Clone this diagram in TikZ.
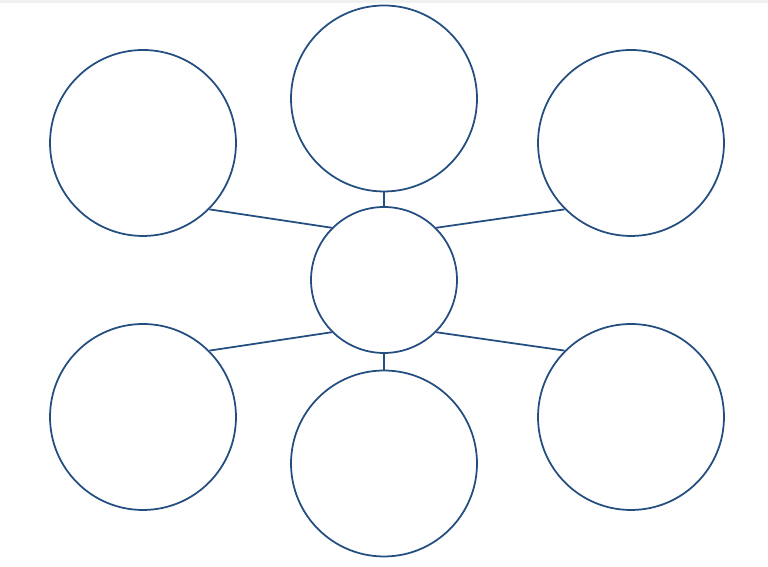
\documentclass[tikz,border=0pt]{standalone}
\usepackage{tikz}
\usetikzlibrary{positioning}
\definecolor{webblue}{RGB}{36,78,128}

\begin{document}
\begin{tikzpicture}[x=0.02cm,y=0.02cm,
  bubble/.style={circle,draw=webblue,line width=1pt,minimum size=3.72cm,inner sep=0pt},
  hub/.style={circle,draw=webblue,line width=1pt,minimum size=2.92cm,inner sep=0pt},
  spoke/.style={draw=webblue,line width=1pt}]
\useasboundingbox (0,0) rectangle (768,567);
\fill[gray!12] (0,563.5) rectangle (768,567);
\node[hub] (hub) at (384,287) {};
\node[bubble] (top) at (384,468.5) {};
\node[bubble] (topleft) at (143,424) {};
\node[bubble] (topright) at (631,424) {};
\node[bubble] (botleft) at (143,150) {};
\node[bubble] (bot) at (384,103.5) {};
\node[bubble] (botright) at (631,150) {};
\draw[spoke] (top.south) -- (hub.north);
\draw[spoke] (bot.north) -- (hub.south);
\draw[spoke] (topleft.south east) -- (hub.north west);
\draw[spoke] (topright.south west) -- (hub.north east);
\draw[spoke] (botleft.north east) -- (hub.south west);
\draw[spoke] (botright.north west) -- (hub.south east);
\end{tikzpicture}
\end{document}
